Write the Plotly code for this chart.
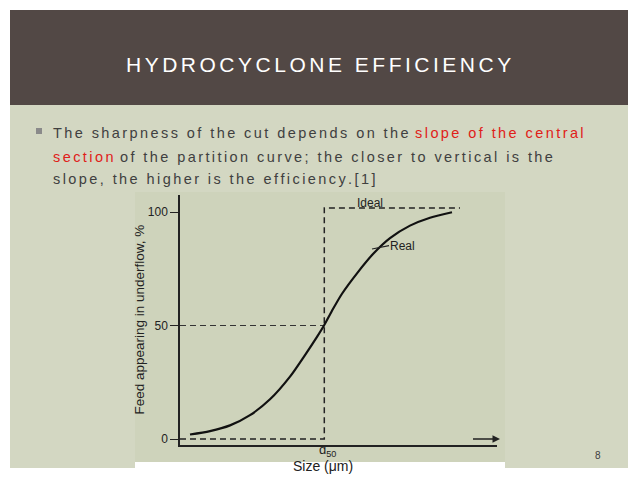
import plotly.graph_objects as go

# data (x in arbitrary size units, d50 marked)
size_real = [10, 30, 50, 70, 90, 110, 125, 137, 144, 152, 162, 177, 193, 210, 230, 250, 272]
feed_real = [2, 3.5, 6, 10.5, 17.5, 27.5, 37, 45, 50, 56.5, 64, 73, 81.5, 88.5, 94, 97.5, 99.9]
d50 = 144.3
ideal_x = [0, d50, d50, 280]
ideal_y = [0, 0, 101.8, 101.8]
y_ticks = [0, 50, 100]

W, H = 638, 479
OFF = 8  # page body margin
def px(x): return (x - OFF) / W
def py(y): return 1 - (y - OFF) / H
def sp(s, n=1): return ("\u200a" * n).join(s)

fig = go.Figure()
fig.add_trace(go.Scatter(x=[0, d50], y=[50, 50], mode="lines",
                         line=dict(color="#333", width=1.2, dash="6px,4px"), hoverinfo="skip"))
fig.add_trace(go.Scatter(x=ideal_x, y=ideal_y, mode="lines",
                         line=dict(color="#222", width=1.5, dash="6px,4px"), hoverinfo="skip"))
fig.add_trace(go.Scatter(x=size_real, y=feed_real, mode="lines", line_shape="spline",
                         line=dict(color="#111", width=2.2, smoothing=0.8), hoverinfo="skip"))

shapes = [
    dict(type="rect", xref="paper", yref="paper", x0=0, x1=1, y0=0, y1=1,
         fillcolor="white", line_width=0, layer="below"),
    dict(type="rect", xref="paper", yref="paper", x0=px(10), x1=px(628), y0=py(468), y1=py(10),
         fillcolor="#d3d7c2", line_width=0, layer="below"),
    dict(type="rect", xref="paper", yref="paper", x0=px(10), x1=px(628), y0=py(105), y1=py(10),
         fillcolor="#524845", line_width=0, layer="below"),
    dict(type="rect", xref="paper", yref="paper", x0=px(135), x1=px(505), y0=py(462), y1=py(192),
         fillcolor="#ced3bb", line_width=0, layer="below"),
    dict(type="rect", xref="paper", yref="paper", x0=px(135), x1=px(505), y0=py(479), y1=py(462),
         fillcolor="white", line_width=0, layer="below"),
    dict(type="rect", xref="paper", yref="paper", x0=px(36), x1=px(42), y0=py(134), y1=py(128),
         fillcolor="#8a8a8a", line_width=0),
]

RED = "#e02018"
ann = [
    dict(text=sp("HYDROCYCLONE EFFICIENCY", 2), x=px(318), y=py(51), font=dict(size=21, color="white")),
    dict(text=sp("The sharpness of the cut depends on the ", 2) + "<span style='color:" + RED + "'>" + sp("slope of the central", 2) + "</span>",
         x=px(51), y=py(143), yanchor="bottom", xanchor="left", font=dict(size=14.5, color="#404040")),
    dict(text="<span style='color:" + RED + "'>" + sp("section", 2) + "</span>" + sp(" of the partition curve; the closer to vertical is the", 2),
         x=px(51), y=py(167), yanchor="bottom", xanchor="left", font=dict(size=14.5, color="#404040")),
    dict(text=sp("slope, the higher is the efficiency.[1]", 2),
         x=px(51), y=py(189), yanchor="bottom", xanchor="left", font=dict(size=14.5, color="#404040")),
    dict(text="8", x=px(603), y=py(463), font=dict(size=10, color="#404040")),
    dict(text="Ideal", x=px(370), y=py(203), font=dict(size=12, color="#222")),
    dict(text="Real", x=px(402), y=py(246), font=dict(size=12, color="#222")),
    dict(text="d<sub>50</sub>", x=px(328), y=py(461), font=dict(size=13, color="#222")),
    dict(text="Size (μm)", x=px(323), y=py(476), font=dict(size=14, color="#222")),
    dict(text="Feed appearing in underflow, %", textangle=-90, x=px(129), y=py(320),
         font=dict(size=13.5, color="#222")),
    dict(x=px(500), y=py(439), ax=-30, ay=0, axref="pixel", ayref="pixel",
         showarrow=True, arrowhead=2, arrowsize=1,
         arrowwidth=1.5, arrowcolor="#222", text=" "),
    dict(x=px(372), y=py(249), ax=20, ay=-4, axref="pixel", ayref="pixel",
         showarrow=True, arrowhead=0, arrowwidth=1.2, arrowcolor="#222", text=" "),
]
for a in ann:
    a.setdefault("xref", "paper"); a.setdefault("yref", "paper")
    a.setdefault("showarrow", False)
    if "font" in a:
        a["font"] = dict(family="Liberation Sans, Arial", **a["font"])

fig.update_layout(
    width=W, height=H, margin=dict(l=0, r=0, t=0, b=0),
    paper_bgcolor="white", plot_bgcolor="rgba(0,0,0,0)", showlegend=False,
    shapes=shapes, annotations=ann,
    xaxis=dict(domain=[px(180), px(497)], range=[0, 317], showgrid=False, zeroline=False,
               showticklabels=False, ticks="", showline=True, linecolor="#222", linewidth=1.5),
    yaxis=dict(domain=[py(445), py(195)], range=[-2.64, 107.5], showgrid=False, zeroline=False,
               tickvals=y_ticks, ticks="outside", ticklen=8, tickcolor="#222",
               tickfont=dict(family="Liberation Sans, Arial", size=12, color="#222"),
               showline=True, linecolor="#222", linewidth=1.5),
)
fig.write_html("out.html")
